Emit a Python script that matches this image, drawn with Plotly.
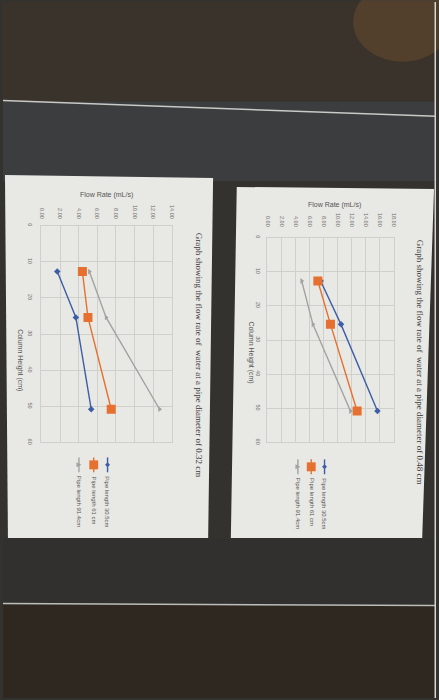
import plotly.graph_objects as go

# Data (flow rate in mL/s against column height in cm)
column_heights = [12.7, 25.4, 50.8]
series_names = ["Pipe length 30.5cm", "Pipe length 61 cm", "Pipe length 91.4cm"]

# pipe diameter 0.48 cm (right page)
flow_048_l30 = [7.6, 10.5, 15.7]
flow_048_l61 = [7.2, 9.0, 12.8]
flow_048_l91 = [4.9, 6.5, 11.85]

# pipe diameter 0.32 cm (left page)
flow_032_l30 = [1.7, 3.7, 5.35]
flow_032_l61 = [4.4, 5.0, 7.5]
flow_032_l91 = [5.15, 6.95, 12.7]

height_ticks = [0, 10, 20, 30, 40, 50, 60]

W, H = 439, 700
PAGE = '#e8e8e4'
GRID = '#cfcfcb'
TICK_COL = '#6e6e6e'
colors = ['#3d5ea6', '#e6702f', '#a2a2a2']
symbols = ['diamond', 'square', 'triangle-right']
msizes = [5, 9, 5]


def px(x):
    return x / W


def py(y):
    return 1 - y / H


fig = go.Figure()

# right chart -> x/y, left chart -> x2/y2
for i, flows in enumerate([flow_048_l30, flow_048_l61, flow_048_l91]):
    fig.add_trace(go.Scatter(
        x=flows, y=column_heights, mode='lines+markers', name=series_names[i],
        line=dict(color=colors[i], width=1.4),
        marker=dict(symbol=symbols[i], size=msizes[i], color=colors[i]),
        xaxis='x', yaxis='y', showlegend=False
    ))
for i, flows in enumerate([flow_032_l30, flow_032_l61, flow_032_l91]):
    fig.add_trace(go.Scatter(
        x=flows, y=column_heights, mode='lines+markers', name=series_names[i],
        line=dict(color=colors[i], width=1.4),
        marker=dict(symbol=symbols[i], size=msizes[i], color=colors[i]),
        xaxis='x2', yaxis='y2', showlegend=False
    ))

tickfont = dict(family='Liberation Sans', size=5.5, color=TICK_COL)


def flow_axis(domain, top_max, standoff):
    return dict(
        domain=domain, range=[0, top_max], side='top', tickangle=90,
        tickvals=list(range(0, top_max + 1, 2)), tickformat='.2f',
        tickfont=tickfont, ticks='', showgrid=True, gridcolor=GRID, gridwidth=1,
        zeroline=False, showline=True, linecolor=GRID, mirror=True,
        ticklabelstandoff=standoff, fixedrange=True
    )


def height_axis(domain, anchor, standoff):
    return dict(
        domain=domain, range=[60, 0], tickvals=height_ticks, tickangle=90,
        tickfont=tickfont, ticks='', showgrid=True, gridcolor=GRID, gridwidth=1,
        zeroline=False, showline=True, linecolor=GRID, mirror=True,
        anchor=anchor, ticklabelstandoff=standoff, fixedrange=True
    )


fig.update_layout(
    width=W, height=H,
    margin=dict(l=0, r=0, t=0, b=0),
    paper_bgcolor='#34322f',
    plot_bgcolor='rgba(0,0,0,0)',
    xaxis=dict(flow_axis([px(268), px(396)], 18, 8), anchor='y'),
    yaxis=height_axis([py(443), py(237)], 'x', 4),
    xaxis2=dict(flow_axis([px(39), px(171)], 14, 4), anchor='y2'),
    yaxis2=height_axis([py(443), py(225)], 'x2', 6),
)

# photo background: desk, monitor edge lines and the two printed pages
shapes = [
    dict(type='rect', x0=0, x1=1, y0=py(100), y1=1, fillcolor='#3a332b', line_width=0),
    dict(type='circle', x0=px(355), x1=px(455), y0=py(60), y1=py(-20),
         fillcolor='rgba(170,110,50,0.22)', line_width=0),
    dict(type='rect', x0=0, x1=1, y0=py(180), y1=py(100), fillcolor='#3b3d3e', line_width=0),
    dict(type='rect', x0=0, x1=1, y0=py(606), y1=py(540), fillcolor='#31302e', line_width=0),
    dict(type='rect', x0=0, x1=1, y0=0, y1=py(606), fillcolor='#2f2820', line_width=0),
    dict(type='line', x0=0, x1=1, y0=py(99), y1=py(115), line=dict(color='#c9c9c6', width=1.5)),
    dict(type='line', x0=0, x1=1, y0=py(605), y1=py(607), line=dict(color='#bdbdba', width=1.5)),
    dict(type='rect', x0=px(437.5), x1=1, y0=0, y1=1, fillcolor='#d8d6d0', line_width=0),
    dict(type='path', line_width=0, fillcolor=PAGE,
         path=f"M {px(2)} {py(174)} L {px(213)} {py(177)} L {px(208)} {py(539)} L {px(5)} {py(539)} Z"),
    dict(type='path', line_width=0, fillcolor=PAGE,
         path=f"M {px(237)} {py(186)} L {px(437)} {py(188)} L {px(425)} {py(539)} L {px(231)} {py(539)} Z"),
]
for s in shapes:
    s.update(xref='paper', yref='paper', layer='below')

annotations = []


def add_text(x, y, text, size, angle=0, family='Liberation Sans', color='#555555'):
    annotations.append(dict(
        x=px(x), y=py(y), xref='paper', yref='paper', text=text, showarrow=False,
        textangle=angle, xanchor='center', yanchor='middle',
        font=dict(family=family, size=size, color=color)
    ))


# titles (the page is photographed turned a quarter clockwise)
add_text(423, 362, "Graph showing the flow rate of  water at a pipe diameter of 0.48 cm", 9,
         angle=90, family='Liberation Serif', color='#3a3a3a')
add_text(199, 355, "Graph showing the flow rate of  water at a pipe diameter of 0.32 cm", 9,
         angle=90, family='Liberation Serif', color='#3a3a3a')

# axis titles
add_text(336, 204, "Flow Rate (mL/s)", 7)
add_text(105, 194, "Flow Rate (mL/s)", 7)
add_text(251, 352, "Column Height (cm)", 7, angle=90)
add_text(17, 360, "Column Height (cm)", 7, angle=90)

# hand-drawn legends
legend_sets = [
    ([326, 312.5, 299], 460),
    ([106, 92, 77], 458),
]
for xs, ytop in legend_sets:
    for i, lx in enumerate(xs):
        shapes.append(dict(type='line', xref='paper', yref='paper',
                           x0=px(lx), x1=px(lx), y0=py(ytop), y1=py(ytop + 15),
                           line=dict(color=colors[i], width=1.4)))
        cy = ytop + 7.5
        r = msizes[i] / 2
        if symbols[i] == 'square':
            shapes.append(dict(type='rect', xref='paper', yref='paper',
                               x0=px(lx - r), x1=px(lx + r), y0=py(cy + r), y1=py(cy - r),
                               fillcolor=colors[i], line_width=0))
        elif symbols[i] == 'diamond':
            shapes.append(dict(type='path', xref='paper', yref='paper', fillcolor=colors[i], line_width=0,
                               path=f"M {px(lx)} {py(cy - r)} L {px(lx + r)} {py(cy)} L {px(lx)} {py(cy + r)} L {px(lx - r)} {py(cy)} Z"))
        else:
            shapes.append(dict(type='path', xref='paper', yref='paper', fillcolor=colors[i], line_width=0,
                               path=f"M {px(lx - r)} {py(cy - r)} L {px(lx + r)} {py(cy)} L {px(lx - r)} {py(cy + r)} Z"))
        annotations.append(dict(
            x=px(lx), y=py(ytop + 17), xref='paper', yref='paper', text=series_names[i],
            showarrow=False, textangle=90, xanchor='center', yanchor='top',
            font=dict(family='Liberation Sans', size=6, color='#555555')
        ))

fig.update_layout(shapes=shapes, annotations=annotations)

# browser default body margin would shift the 439x700 figure by 8px
fig.write_html("out.html", config={'displayModeBar': False},
               post_script="document.body.style.margin='0';")
